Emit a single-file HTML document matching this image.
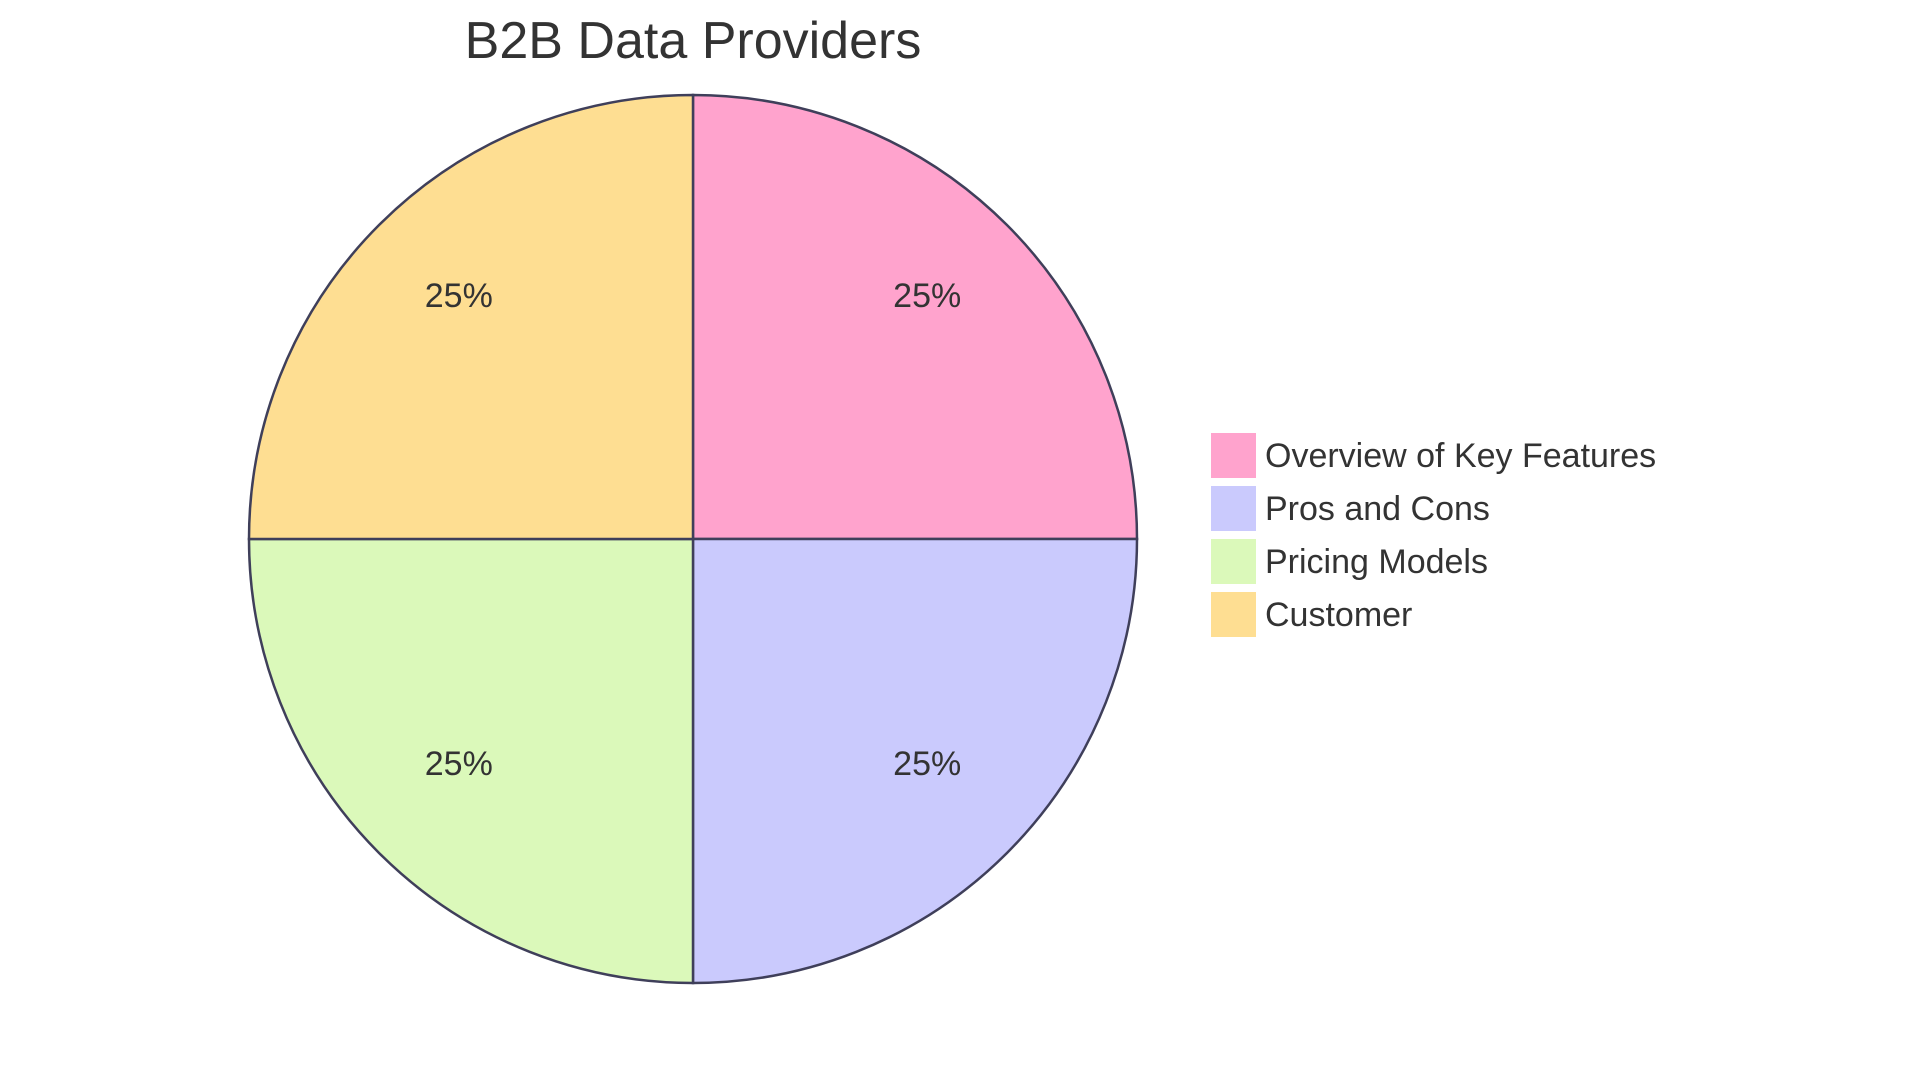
<!DOCTYPE html>
<html><head><meta charset="utf-8"><style>
body{margin:0;background:#fff;width:1920px;height:1080px;overflow:hidden;font-family:"Liberation Sans",sans-serif;}
</style></head><body>
<svg id="chart" width="1920" height="1080" xmlns="http://www.w3.org/2000/svg">
<text x="693" y="58" text-anchor="middle" font-size="52" fill="#333">B2B Data Providers</text>
<g id="slices"></g><g id="labels"></g><g id="legend"></g>
</svg>
<script>
const categories=["Overview of Key Features","Pros and Cons","Pricing Models","Customer"];
const values=[25,25,25,25];
const colors=["#FFA3CD","#CACAFD","#DBF9BA","#FEDE92"];
const cx=693,cy=539,r=444,NS="http://www.w3.org/2000/svg";
const total=values.reduce((a,b)=>a+b,0);
let ang=-Math.PI/2;
const sg=document.getElementById('slices'),lg=document.getElementById('labels'),leg=document.getElementById('legend');
values.forEach((v,i)=>{
 const a2=ang+v/total*2*Math.PI;
 const p=document.createElementNS(NS,'path');
 const x1=cx+r*Math.cos(ang),y1=cy+r*Math.sin(ang),x2=cx+r*Math.cos(a2),y2=cy+r*Math.sin(a2);
 const large=(a2-ang)>Math.PI?1:0;
 p.setAttribute('d',`M${cx},${cy}L${x1},${y1}A${r},${r} 0 ${large} 1 ${x2},${y2}Z`);
 p.setAttribute('fill',colors[i]);p.setAttribute('stroke','#3f3f5a');p.setAttribute('stroke-width','2.5');
 
 
 sg.appendChild(p);
 const m=(ang+a2)/2,lr=r*0.746;
 const t=document.createElementNS(NS,'text');
 t.setAttribute('x',cx+lr*Math.cos(m));t.setAttribute('y',cy+lr*Math.sin(m)+2);
 t.setAttribute('text-anchor','middle');t.setAttribute('font-size','34');t.setAttribute('fill','#333');
 t.textContent=Math.round(v/total*100)+'%';
 
 
 lg.appendChild(t);
 ang=a2;
 const g=document.createElementNS(NS,'g');
 
 
 const rc=document.createElementNS(NS,'rect');
 rc.setAttribute('x',1211);rc.setAttribute('y',433+i*53);rc.setAttribute('width',45);rc.setAttribute('height',45);
 rc.setAttribute('fill',colors[i]);
 const lt=document.createElementNS(NS,'text');
 lt.setAttribute('x',1265);lt.setAttribute('y',467+i*53);lt.setAttribute('font-size','34');lt.setAttribute('fill','#333');
 lt.textContent=categories[i];
 g.appendChild(rc);g.appendChild(lt);leg.appendChild(g);
});
</script>
</body></html>
